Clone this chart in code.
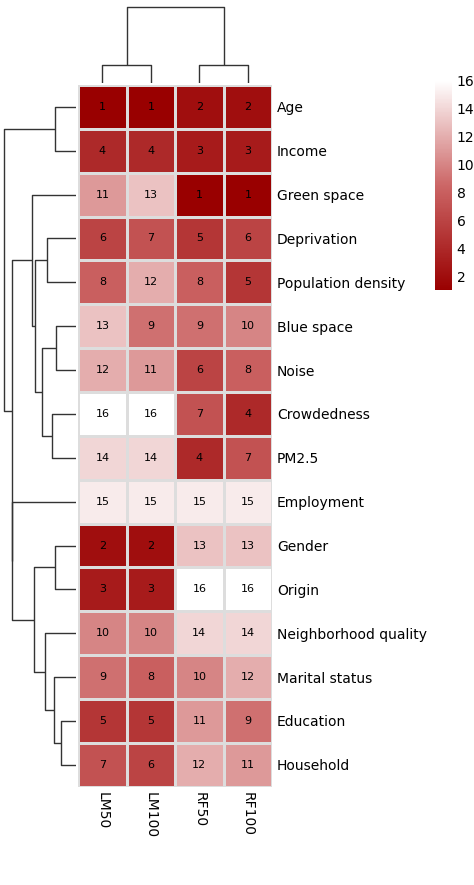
import numpy as np, pandas as pd, seaborn as sns, matplotlib
matplotlib.use("Agg")
import matplotlib.pyplot as plt
from matplotlib.colors import LinearSegmentedColormap
from scipy.cluster import hierarchy as H

rows = ["Education","Household","Gender","Origin","Employment","Neighborhood quality",
        "Blue space","Marital status","Age","Income","Deprivation","Population density",
        "Green space","Crowdedness","PM2.5","Noise"]
cols = ["LM50","LM100","RF50","RF100"]
LM50  = [5,7,2,3,15,10,13,9,1,4,6,8,11,16,14,12]
LM100 = [5,6,2,3,15,10,9,8,1,4,7,12,13,16,14,11]
RF50  = [11,12,13,16,15,14,9,10,2,3,5,8,1,7,4,6]
RF100 = [9,11,13,16,15,14,10,12,2,3,6,5,1,4,7,8]
df = pd.DataFrame({"LM50":LM50,"LM100":LM100,"RF50":RF50,"RF100":RF100}, index=rows)

target = list(range(len(rows)))
chosen = None
for metric in ["euclidean","cityblock","correlation","cosine"]:
    for method in ["complete","average","ward","single","weighted","centroid","median"]:
        if method in ("ward","centroid","median") and metric != "euclidean":
            continue
        try:
            Z = H.linkage(df.values, method=method, metric=metric)
            for opt in (False, True):
                Zo = H.optimal_leaf_ordering(Z, df.values, metric=metric) if opt else Z
                lv = H.dendrogram(Zo, no_plot=True)["leaves"]
                if lv == target or lv[::-1] == target:
                    chosen = Zo; break
        except Exception:
            pass
        if chosen is not None: break
    if chosen is not None: break
if chosen is None:
    chosen = H.linkage(df.values, method="average", metric="euclidean")

cmap = LinearSegmentedColormap.from_list("r", ["#990000", "#cc6666", "#ffffff"])
g = sns.clustermap(df, row_linkage=chosen, cmap=cmap, annot=True, fmt="d",
                   annot_kws={"size":8,"color":"black"}, linewidths=0.8, linecolor="#dddddd",
                   figsize=(4.74,8.85), vmin=1, vmax=16,
                   tree_kws={"colors":"#333333","linewidths":1.0})
g.ax_heatmap.set_position([0.165,0.111,0.409,0.793])
g.ax_row_dendrogram.set_position([0.0,0.111,0.16,0.793])
g.ax_col_dendrogram.set_position([0.165,0.906,0.409,0.09])
g.ax_cbar.set_position([0.918,0.672,0.035,0.237])
ax = g.ax_heatmap
ax.set_xlabel(""); ax.set_ylabel("")
ax.tick_params(axis="y", labelsize=10, length=0, rotation=0)
ax.tick_params(axis="x", labelsize=10, length=0)
for t in ax.get_xticklabels():
    t.set_rotation(-90)
g.ax_cbar.set_yticks([2,4,6,8,10,12,14,16])
g.ax_cbar.tick_params(labelsize=10, length=0)
for s in g.ax_cbar.spines.values(): s.set_visible(False)
g.fig.savefig("out.png", dpi=100)
